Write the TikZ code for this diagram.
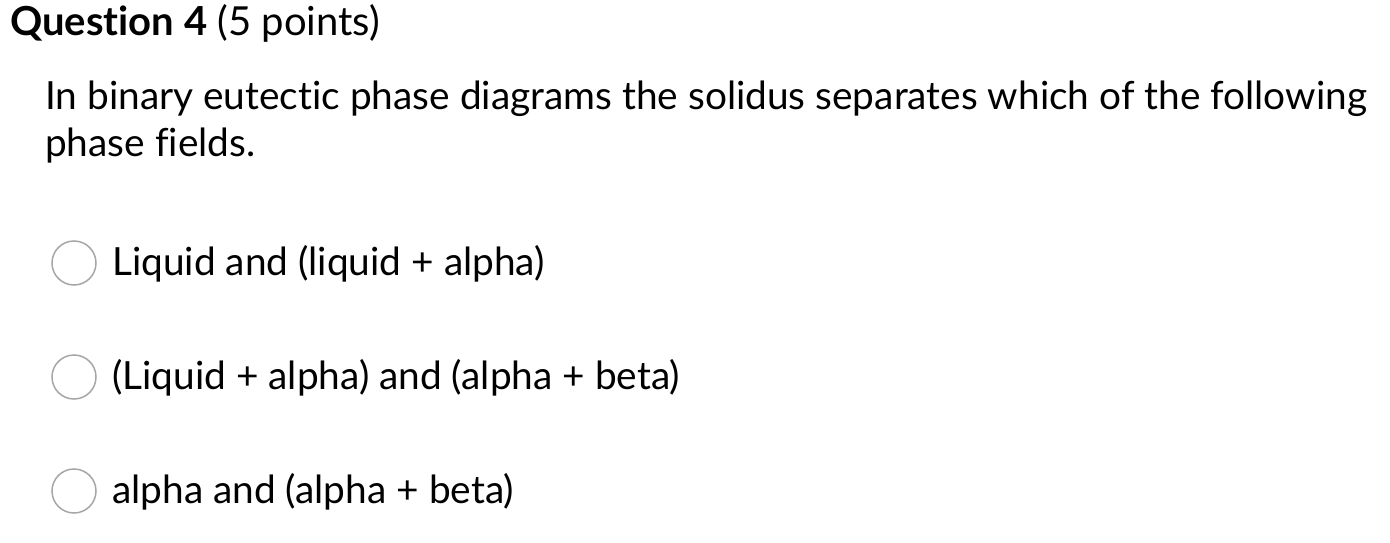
\documentclass[tikz,border=0pt]{standalone}
\usepackage{fontspec}
\setmainfont[RawFeature={-liga;-dlig;-clig}]{Lato}
\begin{document}
\begin{tikzpicture}[x=1pt,y=1pt,
  txt/.style={anchor=base west,inner sep=0pt,font=\fontsize{38.8}{46}\selectfont},
  radio/.style={circle,draw=gray!70,line width=1.5pt,minimum size=44pt,inner sep=0pt}]
\useasboundingbox (0,0) rectangle (1390,542);
\node[txt,font=\fontsize{40}{48}\selectfont] (title) at (10,506) {\textbf{Question 4} (5 points)};
\node[txt] (q1) at (45,432) {In binary eutectic phase diagrams the solidus separates which of the following};
\node[txt] (q2) at (45,385) {phase fields.};
\node[radio] (r1) at (74,279) {};
\node[radio] (r2) at (74,165) {};
\node[radio] (r3) at (74,51) {};
\node[txt] (a1) at (112,267) {Liquid and (liquid + alpha)};
\node[txt] (a2) at (112,153) {(Liquid + alpha) and (alpha + beta)};
\node[txt] (a3) at (112,39) {alpha and (alpha + beta)};
\end{tikzpicture}
\end{document}
